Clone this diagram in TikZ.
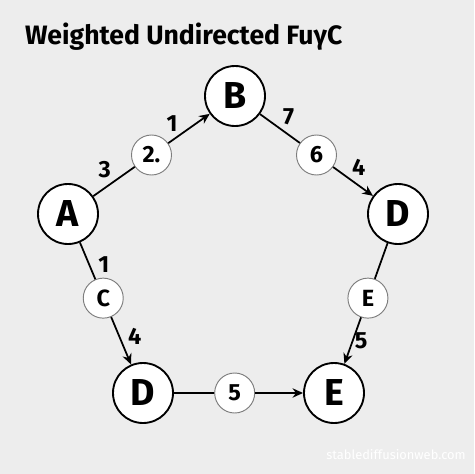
\documentclass[tikz,border=0pt]{standalone}
\usepackage{fontspec}
\setmainfont{Fira Sans}
\usepackage{tikz}
\usetikzlibrary{arrows.meta, positioning, calc}
\definecolor{fondoGris}{RGB}{237,237,237}
\definecolor{bordeGris}{RGB}{125,125,125}

\begin{document}
\begin{tikzpicture}[
  x=0.03cm, y=-0.03cm,
  vert/.style={circle, draw=black, fill=white, line width=1.6pt,
               minimum size=1.8cm, inner sep=0pt,
               font=\fontsize{32}{34}\selectfont\bfseries},
  peso/.style={circle, draw=bordeGris, fill=white, line width=0.8pt,
               minimum size=1.2cm, inner sep=0pt,
               font=\fontsize{20}{22}\selectfont\bfseries},
  etiq/.style={font=\fontsize{20}{22}\selectfont\bfseries, inner sep=2pt},
  arista/.style={line width=1.5pt},
  arrow/.style={arista, -{Stealth[length=9pt, width=8pt]}}
]

% Fondo
\fill[fondoGris] (0,0) rectangle (474,474);
\useasboundingbox (0,0) rectangle (474,474);

% Titulo
\node[anchor=west, font=\fontsize{22.7}{24}\selectfont\bfseries] (titulo) at (21,37)
  {Weighted Undirected FuγC};

% Vertices del pentagono
\node[vert] (A)  at (68,214)  {A};
\node[vert] (B)  at (235,96)  {B};
\node[vert] (D1) at (398,214) {D};
\node[vert] (D2) at (143,393) {D};
\node[vert] (E)  at (334,393) {E};

% Circulos de peso sobre las aristas
\node[peso] (p2) at ($(A)!0.5!(B)$)   {2.};
\node[peso] (p6) at ($(B)!0.5!(D1)$)  {6};
\node[peso] (pC) at ($(A)!0.47!(D2)$) {C};
\node[peso] (pE) at ($(D1)!0.47!(E)$) {E};
\node[peso] (p5) at ($(D2)!0.48!(E)$) {5};

% Aristas superiores
\draw[arista] (A) -- node[etiq, above left] {3} (p2);
\draw[arrow] (p2) -- node[etiq, pos=0.3, above left] {1} (B);
\draw[arista] (B) -- node[etiq, above right] {7} (p6);
\draw[arrow] (p6) -- node[etiq, pos=0.4, above right] {4} (D1);

% Aristas laterales e inferior
\draw[arista] (A) -- node[etiq, pos=0.6, right=5pt] {1} (pC);
\draw[arrow] (pC) -- node[etiq, pos=0.4, right=5pt] {4} (D2);
\draw[arista] (D1) -- (pE);
\draw[arrow] (pE) -- node[etiq, right=-1pt] {5} (E);
\draw[arista] (D2) -- (p5);
\draw[arrow] (p5) -- (E);

% Marca de agua
\node[text=white, font=\fontsize{11}{12}\selectfont] (marca) at (396,455)
  {stablediffusionweb.com};

\end{tikzpicture}
\end{document}
